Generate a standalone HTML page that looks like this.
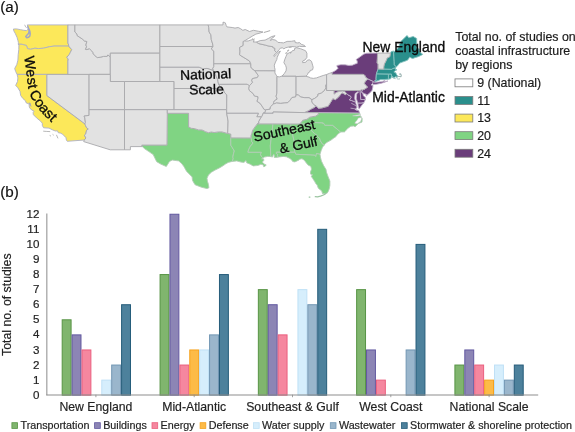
<!DOCTYPE html>
<html><head><meta charset="utf-8"><title>Figure</title>
<style>html,body{margin:0;padding:0;background:#fff}svg{display:block}text{font-family:"Liberation Sans", Arial, sans-serif;stroke:#222;stroke-width:0.18px;paint-order:stroke}.ml text{stroke:#0a0a0a;stroke-width:0.3px}</style>
</head><body>
<svg width="575" height="432" viewBox="0 0 575 432">
<rect width="575" height="432" fill="#fff"/>
<g stroke="#a8a8ac" stroke-width="0.9" stroke-linejoin="round">
<path d="M18.2,44.2 L18.4,43.3 L18.4,42.5 L17.9,40.4 L17.0,37.3 L15.4,33.7 L13.9,31.0 L13.4,29.0 L16.5,28.9 L20.7,29.7 L23.8,30.3 L26.6,30.6 L27.6,29.6 L28.4,28.0 L27.3,24.9 L67.9,24.9 L67.9,43.1 L68.7,44.9 L68.7,46.1 L54.0,46.1 L49.7,46.7 L43.4,48.2 L38.4,48.6 L34.9,48.2 L30.6,49.3 L27.4,48.6 L27.1,47.2 L26.4,45.4 L24.2,45.0 L22.1,44.3 L18.2,44.2Z" fill="#fce85a" stroke="#aeb0c4"/>
<path d="M17.1,74.4 L15.7,71.6 L14.7,68.5 L16.8,64.5 L17.9,60.2 L18.2,54.6 L18.8,49.6 L18.9,44.7 L18.2,44.2 L22.1,44.3 L24.2,45.0 L26.4,45.4 L27.1,47.2 L27.4,48.6 L30.6,49.3 L34.9,48.2 L38.4,48.6 L43.4,48.2 L49.7,46.7 L54.0,46.1 L68.7,46.1 L71.7,49.6 L70.3,52.5 L69.2,54.6 L66.7,57.4 L68.2,58.8 L67.9,61.3 L67.9,74.4 L46.9,74.4 L17.1,74.4Z" fill="#fce85a" stroke="#aeb0c4"/>
<path d="M67.3,141.3 L66.4,140.1 L66.0,137.7 L62.5,134.1 L60.4,133.1 L58.2,132.7 L57.5,130.8 L55.4,131.0 L52.6,129.9 L49.0,128.1 L43.6,127.8 L42.4,125.6 L42.3,123.2 L40.5,121.1 L36.6,117.9 L33.4,114.7 L33.1,112.6 L34.1,111.2 L32.0,110.1 L29.9,108.3 L29.2,106.2 L29.2,104.1 L26.0,102.7 L25.6,100.9 L22.8,98.4 L20.7,95.6 L20.0,91.4 L17.9,87.8 L15.7,85.4 L17.5,81.5 L17.9,77.9 L17.1,74.4 L46.9,74.4 L46.9,95.6 L84.9,123.9 L85.4,125.3 L86.6,127.8 L88.3,129.0 L86.6,130.2 L85.7,134.1 L84.4,135.2 L85.9,138.0 L84.3,140.0 L67.3,141.3Z" fill="#fce85a" stroke="#aeb0c4"/>
<path d="M167.3,113.3 L188.6,113.3 L188.6,127.0 L191.4,128.3 L194.3,128.6 L198.5,129.9 L202.1,130.0 L205.6,131.7 L208.4,132.7 L211.3,132.0 L214.1,132.5 L218.4,131.9 L221.9,131.9 L227.7,133.5 L230.8,134.1 L230.8,137.9 L230.8,145.2 L232.5,147.9 L234.3,150.9 L233.2,155.0 L232.9,157.1 L233.2,158.9 L232.2,161.4 L228.3,162.4 L225.8,163.8 L223.3,165.6 L219.8,167.7 L214.8,170.2 L211.3,172.3 L208.4,175.1 L207.0,178.3 L207.4,181.1 L208.4,184.3 L208.9,187.8 L207.0,188.6 L201.4,187.2 L195.0,184.7 L192.5,180.4 L192.1,176.9 L186.5,171.2 L184.0,166.7 L181.9,163.8 L178.7,160.9 L172.3,160.1 L169.5,161.4 L166.3,166.5 L161.0,164.2 L156.7,161.7 L155.3,158.9 L153.2,154.6 L148.9,151.6 L144.7,148.8 L142.3,146.6 L141.7,145.1 L167.0,145.1 L167.3,113.3Z" fill="#80d483" stroke="#b2ccb6"/>
<path d="M230.8,137.9 L251.2,138.0 L251.7,141.6 L253.1,143.0 L250.2,146.5 L248.5,150.0 L247.9,152.2 L261.4,152.2 L260.5,154.6 L261.9,157.1 L262.9,158.0 L261.6,158.9 L263.7,158.9 L263.7,160.6 L262.3,162.1 L264.4,164.2 L266.2,164.9 L265.1,166.3 L263.7,166.7 L263.3,164.9 L260.9,164.2 L258.7,165.2 L256.6,165.6 L253.1,165.9 L250.2,164.2 L246.7,162.8 L246.0,160.6 L243.9,162.4 L241.0,162.1 L236.8,160.9 L232.2,161.4 L233.2,158.9 L232.9,157.1 L233.2,155.0 L234.3,150.9 L232.5,147.9 L230.8,145.2 L230.8,137.9Z" fill="#80d483" stroke="#b2ccb6"/>
<path d="M257.3,123.9 L272.2,123.9 L272.9,124.6 L270.3,145.8 L270.8,156.6 L267.6,156.4 L264.4,157.1 L262.9,158.0 L261.9,157.1 L260.5,154.6 L261.4,152.2 L247.9,152.2 L248.5,150.0 L250.2,146.5 L253.1,143.0 L251.7,141.6 L251.2,138.0 L250.9,135.9 L251.7,133.8 L252.7,130.2 L255.2,126.7 L257.3,123.9Z" fill="#80d483" stroke="#b2ccb6"/>
<path d="M272.2,123.9 L290.6,124.0 L293.6,139.0 L294.9,143.0 L294.5,145.1 L294.2,148.6 L294.9,152.2 L276.5,152.2 L276.2,153.1 L277.8,154.5 L277.5,155.6 L278.1,156.2 L277.0,157.3 L274.3,157.5 L274.3,156.3 L274.1,154.6 L273.6,154.4 L272.9,155.7 L272.6,157.0 L270.8,156.6 L270.3,145.8 L272.9,124.6 L272.2,123.9Z" fill="#80d483" stroke="#b2ccb6"/>
<path d="M290.6,124.0 L299.7,124.0 L308.3,123.9 L306.6,126.0 L308.7,127.4 L310.8,129.5 L312.2,131.3 L314.7,133.8 L316.5,134.8 L317.9,137.0 L319.7,138.4 L320.4,140.8 L322.2,143.7 L324.3,144.9 L322.5,147.2 L321.1,150.7 L320.0,154.3 L316.5,153.6 L316.1,155.3 L315.8,156.6 L314.7,155.2 L295.9,154.3 L294.9,152.2 L294.2,148.6 L294.5,145.1 L294.9,143.0 L293.6,139.0 L290.6,124.0Z" fill="#80d483" stroke="#b2ccb6"/>
<path d="M294.9,152.2 L295.9,154.3 L314.7,155.2 L315.8,156.6 L316.1,155.3 L316.5,153.6 L320.0,154.3 L320.4,157.1 L321.4,161.0 L323.6,165.6 L326.0,169.5 L326.4,172.0 L328.2,176.9 L329.9,181.1 L329.9,185.4 L329.2,188.9 L328.2,191.4 L327.1,193.2 L324.3,193.5 L322.5,193.7 L321.8,191.0 L318.3,188.2 L317.2,185.0 L315.8,183.6 L314.7,181.5 L312.6,178.3 L311.2,176.2 L312.6,174.8 L310.5,174.1 L310.5,172.0 L311.5,169.1 L310.8,166.3 L308.3,165.2 L306.2,162.8 L304.4,160.3 L302.0,158.7 L299.5,159.2 L299.1,159.9 L294.9,161.9 L292.7,161.5 L292.0,160.3 L289.9,158.4 L286.4,156.8 L283.5,156.4 L279.3,156.9 L277.0,157.3 L278.1,156.2 L277.5,155.6 L277.8,154.5 L276.2,153.1 L276.5,152.2 L294.9,152.2Z" fill="#80d483" stroke="#b2ccb6"/>
<path d="M308.3,123.9 L313.3,122.5 L322.9,122.8 L322.9,123.5 L323.7,123.2 L324.8,125.2 L332.6,125.3 L340.6,132.0 L337.4,134.5 L336.0,136.6 L333.8,138.0 L331.0,140.1 L327.1,142.3 L325.7,143.3 L324.3,144.9 L322.2,143.7 L320.4,140.8 L319.7,138.4 L317.9,137.0 L316.5,134.8 L314.7,133.8 L312.2,131.3 L310.8,129.5 L308.7,127.4 L306.6,126.0 L308.3,123.9Z" fill="#80d483" stroke="#b2ccb6"/>
<path d="M359.6,112.9 L318.4,112.6 L318.3,114.3 L315.8,116.1 L311.9,116.8 L309.8,117.2 L306.9,119.3 L302.7,120.3 L301.6,121.8 L299.7,124.0 L308.3,123.9 L313.3,122.5 L322.9,122.8 L322.9,123.5 L323.7,123.2 L324.8,125.2 L332.6,125.3 L340.6,132.0 L344.5,131.9 L345.2,131.3 L347.3,128.8 L350.8,126.2 L353.7,126.0 L355.1,126.7 L358.6,123.4 L362.0,122.1 L362.2,118.6 L360.4,115.4 L359.6,112.9Z" fill="#80d483" stroke="#b2ccb6"/>
<path d="M316.3,105.9 L318.4,108.3 L321.6,108.0 L324.2,107.3 L328.2,106.2 L328.7,105.3 L330.6,102.3 L332.8,98.6 L335.3,99.7 L338.3,97.2 L342.0,92.8 L345.7,94.7 L346.5,93.3 L348.0,94.9 L350.8,96.3 L351.2,97.7 L349.4,99.8 L351.6,100.5 L354.4,101.6 L355.8,102.4 L355.9,103.4 L356.5,105.5 L357.1,107.6 L355.8,108.2 L356.9,109.4 L355.1,109.4 L356.5,110.2 L358.6,110.3 L359.6,112.9 L318.4,112.6 L304.2,112.6 L308.3,110.8 L311.2,109.0 L314.0,107.6 L316.3,105.9Z" fill="#6a3d7a" stroke="#bfb0c8"/>
<path d="M364.0,102.5 L362.5,104.4 L361.1,106.2 L359.3,108.8 L358.6,108.3 L358.1,105.5 L357.9,103.0 L361.1,103.0 L364.0,102.5Z" fill="#6a3d7a" stroke="#bfb0c8"/>
<path d="M346.5,93.3 L344.5,91.4 L342.3,91.1 L339.2,91.4 L336.7,92.3 L334.0,94.2 L334.0,90.5 L360.1,90.5 L360.8,99.5 L365.4,99.5 L364.0,102.5 L361.1,103.0 L357.9,103.0 L357.4,102.0 L356.3,98.4 L356.7,93.8 L358.6,92.1 L357.9,91.7 L355.1,93.6 L354.7,98.4 L355.7,102.0 L355.8,102.4 L354.4,101.6 L351.6,100.5 L349.4,99.8 L351.2,97.7 L350.8,96.3 L348.0,94.9 L346.5,93.3Z" fill="#6a3d7a" stroke="#bfb0c8"/>
<path d="M360.1,90.5 L360.8,99.5 L365.4,99.5 L365.2,97.0 L363.5,96.0 L362.9,93.8 L361.7,92.4 L361.8,91.2 L362.7,89.9 L361.5,89.7 L360.1,90.5Z" fill="#6a3d7a" stroke="#bfb0c8"/>
<path d="M367.9,78.9 L373.5,81.5 L372.6,83.7 L371.0,85.0 L373.0,85.3 L372.7,87.8 L372.1,90.3 L370.3,92.4 L368.2,94.2 L366.1,96.1 L366.4,94.4 L364.3,93.7 L362.2,92.4 L361.8,91.2 L362.7,89.9 L365.0,88.9 L367.5,87.1 L365.4,85.0 L364.3,83.6 L365.0,81.8 L366.4,80.0 L367.9,78.9Z" fill="#6a3d7a" stroke="#bfb0c8"/>
<path d="M332.0,72.5 L334.9,70.9 L337.0,69.4 L338.1,68.2 L337.0,66.6 L336.9,65.5 L340.9,64.7 L345.2,64.8 L348.7,65.4 L352.3,65.2 L355.1,64.0 L357.2,63.4 L357.2,61.0 L356.2,59.5 L359.3,57.4 L363.6,54.2 L366.1,53.3 L367.9,53.2 L377.5,53.1 L377.4,58.8 L377.1,63.1 L378.1,63.8 L378.1,69.1 L376.4,74.0 L376.0,79.3 L376.5,80.0 L374.7,80.8 L375.2,81.5 L374.4,82.3 L375.6,82.2 L378.5,82.0 L382.0,81.7 L384.9,80.4 L383.8,81.8 L387.9,81.0 L384.1,82.4 L380.6,83.4 L376.4,84.3 L373.2,84.4 L372.6,83.7 L373.5,81.5 L367.9,78.9 L365.4,77.2 L365.2,75.8 L363.2,74.4 L332.0,74.4 L332.0,72.5Z" fill="#6a3d7a" stroke="#bfb0c8"/>
<path d="M390.5,53.1 L391.2,51.6 L393.5,51.1 L393.9,56.7 L394.2,61.7 L394.3,64.7 L396.2,66.8 L395.3,68.2 L394.1,68.2 L392.6,68.7 L391.9,69.4 L383.7,69.2 L383.8,66.6 L384.5,63.8 L385.6,61.7 L386.6,59.5 L387.0,58.1 L389.8,56.7 L390.5,53.1Z" fill="#2a8f8c" stroke="#86c2be"/>
<path d="M393.5,51.1 L395.1,51.6 L395.5,50.4 L398.3,48.0 L399.4,46.5 L399.0,44.7 L400.8,43.1 L401.1,41.2 L406.7,35.8 L407.9,36.0 L407.9,36.9 L408.9,37.8 L413.2,36.5 L416.7,38.5 L416.7,48.2 L419.2,48.9 L419.2,51.2 L419.9,52.3 L422.4,53.9 L422.6,54.5 L420.3,55.7 L418.2,56.7 L414.6,57.8 L412.8,58.5 L411.4,58.1 L409.7,57.1 L408.6,58.8 L407.5,60.2 L404.7,61.3 L402.6,62.0 L399.7,63.1 L398.3,64.8 L396.9,66.5 L396.2,66.8 L394.3,64.7 L394.2,61.7 L393.9,56.7 L393.5,51.1Z" fill="#2a8f8c" stroke="#86c2be"/>
<path d="M395.3,68.2 L395.5,69.4 L396.9,69.8 L394.8,70.9 L393.9,72.1 L395.8,72.8 L396.5,74.6 L397.5,75.8 L398.0,76.8 L396.5,77.6 L396.2,76.4 L394.4,77.6 L393.2,77.9 L392.6,76.5 L391.7,75.9 L391.4,75.1 L391.4,74.2 L388.4,74.2 L376.4,74.0 L378.1,69.1 L383.7,69.2 L391.9,69.4 L392.6,68.7 L394.1,68.2 L395.3,68.2Z" fill="#2a8f8c" stroke="#86c2be"/>
<path d="M393.2,77.9 L392.3,76.9 L391.4,76.2 L391.1,78.1 L390.5,78.8 L388.0,79.2 L388.4,78.6 L388.4,74.2 L391.4,74.2 L391.4,75.1 L391.7,75.9 L392.6,76.5 L393.2,77.9Z" fill="#2a8f8c" stroke="#86c2be"/>
<path d="M388.0,79.2 L383.4,79.6 L380.6,79.6 L378.5,80.4 L375.2,81.5 L374.7,80.8 L376.5,80.0 L376.0,79.3 L376.4,74.0 L388.4,74.2 L388.4,78.6 L388.0,79.2Z" fill="#2a8f8c" stroke="#86c2be"/>
<path d="M46.9,74.4 L67.9,74.4 L89.1,74.4 L89.1,109.7 L89.1,115.4 L84.1,116.1 L84.8,117.9 L85.4,122.5 L84.9,123.9 L46.9,95.6 L46.9,74.4Z" fill="#e2e2e2"/>
<path d="M67.9,24.9 L74.9,24.9 L74.9,32.0 L77.0,34.1 L77.4,35.9 L79.8,37.3 L82.3,39.0 L84.4,40.9 L86.9,41.5 L85.9,45.0 L86.6,46.8 L85.5,49.3 L86.9,49.6 L89.4,48.6 L91.2,50.4 L93.0,52.5 L93.3,53.9 L96.5,57.1 L97.6,57.6 L100.7,57.1 L103.6,56.4 L107.1,56.4 L107.8,54.9 L110.3,56.9 L110.3,74.4 L89.1,74.4 L67.9,74.4 L67.9,61.3 L68.2,58.8 L66.7,57.4 L69.2,54.6 L70.3,52.5 L71.7,49.6 L68.7,46.1 L68.7,44.9 L67.9,43.1 L67.9,24.9Z" fill="#e2e2e2"/>
<path d="M74.9,24.9 L159.9,24.9 L159.9,46.5 L159.9,53.2 L110.3,53.2 L110.3,56.9 L107.8,54.9 L107.1,56.4 L103.6,56.4 L100.7,57.1 L97.6,57.6 L96.5,57.1 L93.3,53.9 L93.0,52.5 L91.2,50.4 L89.4,48.6 L86.9,49.6 L85.5,49.3 L86.6,46.8 L85.9,45.0 L86.9,41.5 L84.4,40.9 L82.3,39.0 L79.8,37.3 L77.4,35.9 L77.0,34.1 L74.9,32.0 L74.9,24.9Z" fill="#e2e2e2"/>
<path d="M110.3,56.9 L110.3,53.2 L159.9,53.2 L159.9,67.3 L159.9,81.5 L124.5,81.5 L110.3,81.5 L110.3,74.4 L110.3,56.9Z" fill="#e2e2e2"/>
<path d="M89.1,74.4 L110.3,74.4 L110.3,81.5 L124.5,81.5 L124.5,109.7 L89.1,109.7 L89.1,74.4Z" fill="#e2e2e2"/>
<path d="M89.1,109.7 L124.5,109.7 L124.5,149.8 L110.2,149.8 L83.7,141.6 L84.3,140.0 L85.9,138.0 L84.4,135.2 L85.7,134.1 L86.6,130.2 L88.3,129.0 L86.6,127.8 L85.4,125.3 L84.9,123.9 L85.4,122.5 L84.8,117.9 L84.1,116.1 L89.1,115.4 L89.1,109.7Z" fill="#e2e2e2"/>
<path d="M124.5,81.5 L159.9,81.5 L174.1,81.5 L174.1,88.5 L174.1,109.7 L167.3,109.7 L124.5,109.7 L124.5,81.5Z" fill="#e2e2e2"/>
<path d="M124.5,109.7 L167.3,109.7 L167.3,113.3 L167.0,145.1 L141.7,145.1 L142.3,146.6 L130.4,146.6 L130.4,149.8 L124.5,149.8 L124.5,109.7Z" fill="#e2e2e2"/>
<path d="M159.9,24.9 L208.2,24.9 L208.8,27.7 L209.1,32.0 L210.9,34.8 L211.3,39.7 L212.7,44.0 L213.0,46.5 L159.9,46.5 L159.9,24.9Z" fill="#e2e2e2"/>
<path d="M159.9,46.5 L213.0,46.5 L211.3,48.9 L213.8,51.1 L213.8,63.8 L213.8,66.6 L212.7,68.7 L213.8,70.9 L212.0,70.1 L207.0,68.4 L202.8,68.9 L199.2,67.3 L159.9,67.3 L159.9,53.2 L159.9,46.5Z" fill="#e2e2e2"/>
<path d="M159.9,67.3 L199.2,67.3 L202.8,68.9 L207.0,68.4 L212.0,70.1 L213.8,70.9 L214.8,73.0 L216.2,76.5 L217.6,79.3 L218.0,81.5 L218.6,84.4 L221.8,88.5 L174.1,88.5 L174.1,81.5 L159.9,81.5 L159.9,67.3Z" fill="#e2e2e2"/>
<path d="M174.1,88.5 L221.8,88.5 L223.3,89.6 L224.7,92.8 L226.8,94.9 L226.7,109.7 L174.1,109.7 L174.1,88.5Z" fill="#e2e2e2"/>
<path d="M174.1,109.7 L226.7,109.7 L226.7,113.3 L228.1,121.1 L227.7,133.5 L221.9,131.9 L218.4,131.9 L214.1,132.5 L211.3,132.0 L208.4,132.7 L205.6,131.7 L202.1,130.0 L198.5,129.9 L194.3,128.6 L191.4,128.3 L188.6,127.0 L188.6,113.3 L167.3,113.3 L167.3,109.7 L174.1,109.7Z" fill="#e2e2e2"/>
<path d="M208.2,24.9 L223.0,24.9 L223.0,22.2 L224.4,22.4 L225.3,22.8 L226.3,25.7 L226.9,26.9 L232.2,27.5 L235.0,28.1 L238.2,27.5 L240.7,28.8 L242.8,30.3 L245.3,29.5 L249.5,31.5 L253.4,30.3 L258.7,31.3 L263.0,32.0 L260.2,33.0 L255.9,34.1 L252.4,36.1 L248.8,38.3 L245.3,40.3 L244.6,41.0 L243.2,41.5 L243.2,45.5 L239.6,47.5 L240.0,51.1 L239.6,54.9 L243.2,57.1 L246.0,58.8 L249.5,61.0 L250.8,63.8 L213.8,63.8 L213.8,51.1 L211.3,48.9 L213.0,46.5 L212.7,44.0 L211.3,39.7 L210.9,34.8 L209.1,32.0 L208.8,27.7 L208.2,24.9Z" fill="#e2e2e2"/>
<path d="M213.8,63.8 L250.8,63.8 L250.9,66.6 L251.3,68.0 L254.9,70.8 L256.6,73.0 L258.4,75.8 L257.3,77.6 L252.4,78.6 L251.7,80.8 L252.7,82.2 L249.4,85.8 L247.2,84.3 L218.6,84.4 L218.0,81.5 L217.6,79.3 L216.2,76.5 L214.8,73.0 L213.8,70.9 L212.7,68.7 L213.8,66.6 L213.8,63.8Z" fill="#e2e2e2"/>
<path d="M218.6,84.4 L247.2,84.3 L249.4,85.8 L248.8,88.5 L249.5,90.7 L253.1,93.5 L254.5,96.0 L258.0,96.7 L258.0,98.4 L257.0,101.3 L260.2,103.4 L263.0,107.6 L263.7,109.0 L265.5,109.9 L265.1,112.6 L263.0,113.3 L262.6,115.0 L261.6,116.8 L256.8,116.8 L258.4,113.3 L226.7,113.3 L226.7,109.7 L226.8,94.9 L224.7,92.8 L223.3,89.6 L221.8,88.5 L218.6,84.4Z" fill="#e2e2e2"/>
<path d="M226.7,113.3 L258.4,113.3 L256.8,116.8 L261.6,116.8 L260.2,118.9 L258.7,121.8 L259.0,123.0 L257.3,123.9 L255.2,126.7 L252.7,130.2 L251.7,133.8 L250.9,135.9 L251.2,138.0 L230.8,137.9 L230.8,134.1 L227.7,133.5 L228.1,121.1 L226.7,113.3Z" fill="#e2e2e2"/>
<path d="M244.6,41.0 L248.1,41.0 L250.9,40.0 L253.4,39.4 L254.1,41.2 L253.1,41.9 L256.5,42.1 L258.7,43.6 L265.8,45.2 L268.0,45.9 L272.9,46.7 L272.9,47.5 L275.0,48.4 L274.7,50.7 L276.5,52.5 L275.4,53.5 L273.6,55.9 L274.0,56.5 L276.5,54.2 L278.6,51.8 L280.4,51.2 L278.6,54.2 L277.2,57.4 L276.8,59.5 L275.5,62.0 L274.3,65.2 L274.5,67.3 L275.0,69.1 L275.0,70.9 L254.9,70.8 L251.3,68.0 L250.9,66.6 L250.8,63.8 L249.5,61.0 L246.0,58.8 L243.2,57.1 L239.6,54.9 L240.0,51.1 L239.6,47.5 L243.2,45.5 L243.2,41.5 L244.6,41.0Z" fill="#e2e2e2"/>
<path d="M254.9,70.8 L275.0,70.9 L274.9,73.0 L276.3,75.2 L277.0,76.5 L276.9,93.1 L276.1,96.3 L277.2,99.1 L274.3,100.9 L273.6,102.7 L273.3,104.1 L270.4,106.9 L270.1,109.2 L265.5,109.9 L263.7,109.0 L263.0,107.6 L260.2,103.4 L257.0,101.3 L258.0,98.4 L258.0,96.7 L254.5,96.0 L253.1,93.5 L249.5,90.7 L248.8,88.5 L249.4,85.8 L252.7,82.2 L251.7,80.8 L252.4,78.6 L257.3,77.6 L258.4,75.8 L256.6,73.0 L254.9,70.8Z" fill="#e2e2e2"/>
<path d="M277.0,76.5 L279.3,76.9 L282.0,76.1 L296.1,76.1 L296.1,76.5 L296.1,94.9 L295.6,97.0 L292.0,97.5 L289.9,100.5 L287.8,102.7 L284.2,103.0 L280.7,103.4 L276.5,103.0 L273.3,104.1 L273.6,102.7 L274.3,100.9 L277.2,99.1 L276.1,96.3 L276.9,93.1 L277.0,76.5Z" fill="#e2e2e2"/>
<path d="M256.5,42.1 L260.2,40.6 L265.1,40.1 L268.7,38.3 L271.5,36.6 L275.0,35.7 L274.0,36.9 L271.8,38.3 L270.4,40.5 L272.2,39.5 L275.7,40.1 L277.9,42.4 L280.7,42.6 L283.5,42.9 L287.1,41.4 L291.3,41.3 L294.9,40.7 L295.2,42.6 L297.7,42.9 L299.5,42.6 L301.3,44.3 L304.4,45.4 L305.5,46.5 L302.0,46.6 L299.5,46.3 L296.6,47.2 L294.9,46.8 L291.3,46.5 L287.8,47.2 L285.3,47.9 L283.9,48.9 L282.5,47.9 L280.4,48.1 L279.3,49.6 L276.5,52.5 L274.7,50.7 L275.0,48.4 L272.9,47.5 L272.9,46.7 L268.0,45.9 L265.8,45.2 L258.7,43.6 L256.5,42.1Z" fill="#e2e2e2"/>
<path d="M282.0,76.1 L284.2,73.7 L286.0,70.9 L286.4,68.0 L285.7,65.6 L283.9,62.7 L284.6,59.9 L286.0,56.4 L287.1,53.9 L289.2,52.8 L290.5,52.0 L290.6,53.3 L291.3,52.1 L292.4,50.7 L294.5,50.2 L294.5,48.6 L296.6,47.7 L300.5,48.7 L305.5,50.7 L306.9,53.2 L306.9,57.4 L305.1,59.9 L302.7,61.0 L302.7,62.7 L305.9,62.2 L307.3,60.2 L309.4,59.8 L311.5,61.3 L312.6,65.2 L313.2,67.3 L312.6,69.8 L310.1,70.5 L309.8,71.9 L308.3,72.6 L307.6,74.4 L305.9,76.3 L296.1,76.5 L296.1,76.1 L282.0,76.1Z" fill="#e2e2e2"/>
<path d="M305.9,76.3 L309.0,77.1 L310.5,77.9 L313.3,78.4 L316.5,77.9 L319.7,76.7 L323.2,75.5 L326.6,74.5 L326.6,84.0 L325.7,85.7 L326.0,87.8 L324.3,90.7 L321.4,93.1 L317.9,94.2 L317.9,96.0 L314.7,98.4 L311.9,99.7 L309.0,97.7 L304.8,97.7 L300.5,97.0 L298.4,94.9 L296.1,94.9 L296.1,76.5 L305.9,76.3Z" fill="#e2e2e2"/>
<path d="M296.1,94.9 L295.6,97.0 L292.0,97.5 L289.9,100.5 L287.8,102.7 L284.2,103.0 L280.7,103.4 L276.5,103.0 L273.3,104.1 L270.4,106.9 L270.1,109.2 L265.5,109.9 L265.1,112.6 L263.0,113.3 L273.1,113.3 L273.1,112.0 L304.2,112.6 L308.3,110.8 L311.2,109.0 L314.0,107.6 L316.3,105.9 L314.0,104.8 L311.9,102.0 L311.9,99.7 L309.0,97.7 L304.8,97.7 L300.5,97.0 L298.4,94.9 L296.1,94.9Z" fill="#e2e2e2"/>
<path d="M263.0,113.3 L273.1,113.3 L273.1,112.0 L304.2,112.6 L318.4,112.6 L318.3,114.3 L315.8,116.1 L311.9,116.8 L309.8,117.2 L306.9,119.3 L302.7,120.3 L301.6,121.8 L299.7,124.0 L290.6,124.0 L272.2,123.9 L257.3,123.9 L259.0,123.0 L258.7,121.8 L260.2,118.9 L261.6,116.8 L262.6,115.0 L263.0,113.3Z" fill="#e2e2e2"/>
<path d="M326.6,84.0 L325.7,85.7 L326.0,87.8 L324.3,90.7 L321.4,93.1 L317.9,94.2 L317.9,96.0 L314.7,98.4 L311.9,99.7 L311.9,102.0 L314.0,104.8 L316.3,105.9 L318.4,108.3 L321.6,108.0 L324.2,107.3 L328.2,106.2 L328.7,105.3 L330.6,102.3 L332.8,98.6 L335.3,99.7 L338.3,97.2 L342.0,92.8 L345.7,94.7 L346.5,93.3 L344.5,91.4 L342.3,91.1 L339.2,91.4 L336.7,92.3 L334.0,94.2 L334.0,90.5 L326.6,90.5 L326.6,84.0Z" fill="#e2e2e2"/>
<path d="M326.6,74.5 L329.6,73.3 L332.0,72.5 L332.0,74.4 L363.2,74.4 L365.2,75.8 L365.4,77.2 L367.9,78.9 L366.4,80.0 L365.0,81.8 L364.3,83.6 L365.4,85.0 L367.5,87.1 L365.0,88.9 L362.7,89.9 L361.5,89.7 L360.1,90.5 L334.0,90.5 L326.6,90.5 L326.6,84.0 L326.6,74.5Z" fill="#e2e2e2"/>
<path d="M377.5,53.1 L390.5,53.1 L389.8,56.7 L387.0,58.1 L386.6,59.5 L385.6,61.7 L384.5,63.8 L383.8,66.6 L383.7,69.2 L378.1,69.1 L378.1,63.8 L377.1,63.1 L377.4,58.8 L377.5,53.1Z" fill="#e2e2e2"/>
</g>
<g fill="none" stroke-linejoin="round" stroke-linecap="round">
<path d="M27.8,26.6 L28.6,28.6 L29.1,31 L28.6,33.4 L26.8,35.2 L25.7,36.6 L26.8,37.8 L28.4,37.3 L29.8,36.2 L30.2,33.8 L29.8,31.2 L29,29" stroke="#a0a6c8" stroke-width="1.5"/>
<path d="M25.2,26.2 L26.4,27.6 M24.6,25.2 L25.3,25.6" stroke="#b4b4b4" stroke-width="0.8"/>
<path d="M29.4,103 L30.3,104.6 L30.9,106.2 M30.2,104.4 L30.0,103.2" stroke="#a3a8c6" stroke-width="1"/>
<path d="M43.6,131.2 L46.2,131.4 L49.8,131.6 M50,135.6 L50.6,135.9 M52.9,134.6 L53.4,135 M56.6,135.2 L57.8,138" stroke="#b0b0b0" stroke-width="0.9"/>
<path d="M315.3,196.7 L317.5,196.9 L320.5,196.2 L323.5,195 L325.6,193.6 M309.2,197.1 L309.9,197.1" stroke="#9cc5a2" stroke-width="1.3"/>
<path d="M289.6,47.4 L291.4,46.9 M287.6,51.0 L288.6,50.2 M285.9,53.3 L286.7,52.7" stroke="#b4b4b4" stroke-width="1.3"/>
<path d="M264.2,32.4 L266.9,31.6 L269.8,30.7" stroke="#ababab" stroke-width="1"/>
<path d="M252.6,38.6 L253.6,39.4 L254.6,39.0" stroke="#ababab" stroke-width="0.8"/>
<path d="M351.6,103.4 L354,104.6 L356.2,106.1 M350.9,108.2 L353.8,108.6 L356.8,109.6" stroke="#cfc4d4" stroke-width="0.7"/>
<path d="M397.2,78.8 L398.4,79.1 L399.6,78.9 M393.8,78.3 L395.3,78.6" stroke="#9fbfbd" stroke-width="0.9"/>
<path d="M397.3,76.3 L399.2,76.5 L401.0,76.6 L401.3,75.2 L400.5,73.9 L399.6,74.1" stroke="#9db5b4" stroke-width="1.1"/>
</g>
<g stroke="#c9c4cc" stroke-width="0.5" fill="#ffffff" stroke-linejoin="round">
<path d="M358.3,118.0 L361.6,117.4 L361.3,119.6 L360.6,121.4 L357.2,123.8 L354.8,123.3 L355.6,121.8 L356.9,120.6 Z"/>
<path d="M352.6,115.8 L356.5,115.2 L360.2,114.4 L360.6,116.2 L359.6,115.6 L356.5,116.1 Z"/>
</g>
<defs><path id="wcp" d="M24.2,56.9 C24.6,59.3 25.5,65.9 26.2,71.4 C27.0,76.9 27.3,84.8 28.5,89.8 C29.7,94.9 31.3,97.9 33.6,101.8 C35.8,105.6 38.8,109.1 42.2,113.0 C45.5,116.8 50.5,121.3 53.8,124.6 C57.2,128.0 60.9,131.8 62.3,133.2"/></defs>
<g class="ml" font-size="13.9" fill="#0a0a0a">
<text font-size="14.3"><textPath href="#wcp">West Coast</textPath></text>
<text transform="translate(205.8,79) rotate(-2)" text-anchor="middle">National</text>
<text transform="translate(206.5,94.2) rotate(-1)" text-anchor="middle">Scale</text>
<text transform="translate(285.2,135.2) rotate(-12)" text-anchor="middle">Southeast</text>
<text transform="translate(299.5,149.5) rotate(-12)" text-anchor="middle">&amp; Gulf</text>
<text x="362.5" y="51.8">New England</text>
<text x="372.3" y="101.7">Mid-Atlantic</text>
</g>

<text x="0.3" y="11.6" font-size="15.2" fill="#111">(a)</text>
<text x="0.3" y="196.6" font-size="15.2" fill="#111">(b)</text>
<text x="455.2" y="40.50" font-size="12.4" fill="#1a1a1a">Total no. of studies on</text>
<text x="455.2" y="54.55" font-size="12.4" fill="#1a1a1a">coastal infrastructure</text>
<text x="455.2" y="68.60" font-size="12.4" fill="#1a1a1a">by regions</text>
<rect x="455" y="78.9" width="17.8" height="7.9" fill="#ffffff" stroke="#7a7a7a" stroke-width="0.8"/>
<text x="477.2" y="87.1" font-size="12.4" fill="#1a1a1a">9 (National)</text>
<rect x="455" y="96.5" width="17.8" height="7.9" fill="#2a8f8c" stroke="#7a7a7a" stroke-width="0.8"/>
<text x="477.2" y="104.7" font-size="12.4" fill="#1a1a1a">11</text>
<rect x="455" y="114.1" width="17.8" height="7.9" fill="#fce85a" stroke="#7a7a7a" stroke-width="0.8"/>
<text x="477.2" y="122.3" font-size="12.4" fill="#1a1a1a">13</text>
<rect x="455" y="131.7" width="17.8" height="7.9" fill="#80d483" stroke="#7a7a7a" stroke-width="0.8"/>
<text x="477.2" y="139.9" font-size="12.4" fill="#1a1a1a">20</text>
<rect x="455" y="149.3" width="17.8" height="7.9" fill="#6a3d7a" stroke="#7a7a7a" stroke-width="0.8"/>
<text x="477.2" y="157.5" font-size="12.4" fill="#1a1a1a">24</text>
<line x1="46.8" y1="213.5" x2="46.8" y2="395.2" stroke="#a6a6a6" stroke-width="1.3"/>
<rect x="62.19" y="319.80" width="8.90" height="75.40" fill="#80b56e" stroke="#579445" stroke-width="1"/>
<rect x="72.09" y="334.88" width="8.90" height="60.32" fill="#8c85b5" stroke="#6258a0" stroke-width="1"/>
<rect x="81.99" y="349.96" width="8.90" height="45.24" fill="#f5879f" stroke="#ea5f7e" stroke-width="1"/>
<rect x="101.79" y="380.12" width="8.90" height="15.08" fill="#d6eefc" stroke="#bfe0f6" stroke-width="1"/>
<rect x="111.69" y="365.04" width="8.90" height="30.16" fill="#9ab6cc" stroke="#7297b4" stroke-width="1"/>
<rect x="121.59" y="304.72" width="8.90" height="90.48" fill="#4d819c" stroke="#255c7a" stroke-width="1"/>
<line x1="95.9" y1="394.7" x2="95.9" y2="397.2" stroke="#8a8a8a" stroke-width="0.8"/>
<text x="95.9" y="411" font-size="12.25" text-anchor="middle" fill="#222">New England</text>
<rect x="160.07" y="274.56" width="8.90" height="120.64" fill="#80b56e" stroke="#579445" stroke-width="1"/>
<rect x="169.97" y="214.24" width="8.90" height="180.96" fill="#8c85b5" stroke="#6258a0" stroke-width="1"/>
<rect x="179.87" y="365.04" width="8.90" height="30.16" fill="#f5879f" stroke="#ea5f7e" stroke-width="1"/>
<rect x="189.77" y="349.96" width="8.90" height="45.24" fill="#fdbb47" stroke="#f6a11c" stroke-width="1"/>
<rect x="199.67" y="349.96" width="8.90" height="45.24" fill="#d6eefc" stroke="#bfe0f6" stroke-width="1"/>
<rect x="209.57" y="334.88" width="8.90" height="60.32" fill="#9ab6cc" stroke="#7297b4" stroke-width="1"/>
<rect x="219.47" y="274.56" width="8.90" height="120.64" fill="#4d819c" stroke="#255c7a" stroke-width="1"/>
<line x1="194.2" y1="394.7" x2="194.2" y2="397.2" stroke="#8a8a8a" stroke-width="0.8"/>
<text x="194.2" y="411" font-size="12.25" text-anchor="middle" fill="#222">Mid-Atlantic</text>
<rect x="258.35" y="289.64" width="8.90" height="105.56" fill="#80b56e" stroke="#579445" stroke-width="1"/>
<rect x="268.25" y="304.72" width="8.90" height="90.48" fill="#8c85b5" stroke="#6258a0" stroke-width="1"/>
<rect x="278.15" y="334.88" width="8.90" height="60.32" fill="#f5879f" stroke="#ea5f7e" stroke-width="1"/>
<rect x="297.95" y="289.64" width="8.90" height="105.56" fill="#d6eefc" stroke="#bfe0f6" stroke-width="1"/>
<rect x="307.85" y="304.72" width="8.90" height="90.48" fill="#9ab6cc" stroke="#7297b4" stroke-width="1"/>
<rect x="317.75" y="229.32" width="8.90" height="165.88" fill="#4d819c" stroke="#255c7a" stroke-width="1"/>
<line x1="292.5" y1="394.7" x2="292.5" y2="397.2" stroke="#8a8a8a" stroke-width="0.8"/>
<text x="292.5" y="411" font-size="12.25" text-anchor="middle" fill="#222">Southeast &amp; Gulf</text>
<rect x="356.63" y="289.64" width="8.90" height="105.56" fill="#80b56e" stroke="#579445" stroke-width="1"/>
<rect x="366.53" y="349.96" width="8.90" height="45.24" fill="#8c85b5" stroke="#6258a0" stroke-width="1"/>
<rect x="376.43" y="380.12" width="8.90" height="15.08" fill="#f5879f" stroke="#ea5f7e" stroke-width="1"/>
<rect x="406.13" y="349.96" width="8.90" height="45.24" fill="#9ab6cc" stroke="#7297b4" stroke-width="1"/>
<rect x="416.03" y="244.40" width="8.90" height="150.80" fill="#4d819c" stroke="#255c7a" stroke-width="1"/>
<line x1="390.8" y1="394.7" x2="390.8" y2="397.2" stroke="#8a8a8a" stroke-width="0.8"/>
<text x="390.8" y="411" font-size="12.25" text-anchor="middle" fill="#222">West Coast</text>
<rect x="454.91" y="365.04" width="8.90" height="30.16" fill="#80b56e" stroke="#579445" stroke-width="1"/>
<rect x="464.81" y="349.96" width="8.90" height="45.24" fill="#8c85b5" stroke="#6258a0" stroke-width="1"/>
<rect x="474.71" y="365.04" width="8.90" height="30.16" fill="#f5879f" stroke="#ea5f7e" stroke-width="1"/>
<rect x="484.61" y="380.12" width="8.90" height="15.08" fill="#fdbb47" stroke="#f6a11c" stroke-width="1"/>
<rect x="494.51" y="365.04" width="8.90" height="30.16" fill="#d6eefc" stroke="#bfe0f6" stroke-width="1"/>
<rect x="504.41" y="380.12" width="8.90" height="15.08" fill="#9ab6cc" stroke="#7297b4" stroke-width="1"/>
<rect x="514.31" y="365.04" width="8.90" height="30.16" fill="#4d819c" stroke="#255c7a" stroke-width="1"/>
<line x1="489.1" y1="394.7" x2="489.1" y2="397.2" stroke="#8a8a8a" stroke-width="0.8"/>
<text x="489.1" y="411" font-size="12.25" text-anchor="middle" fill="#222">National Scale</text>
<line x1="46.3" y1="395.0" x2="538.2" y2="395.0" stroke="#8e8e8e" stroke-width="1.2"/>
<text x="39.4" y="398.7" font-size="11.6" text-anchor="end" fill="#222">0</text>
<text x="39.4" y="383.6" font-size="11.6" text-anchor="end" fill="#222">1</text>
<text x="39.4" y="368.5" font-size="11.6" text-anchor="end" fill="#222">2</text>
<text x="39.4" y="353.5" font-size="11.6" text-anchor="end" fill="#222">3</text>
<text x="39.4" y="338.4" font-size="11.6" text-anchor="end" fill="#222">4</text>
<text x="39.4" y="323.3" font-size="11.6" text-anchor="end" fill="#222">5</text>
<text x="39.4" y="308.2" font-size="11.6" text-anchor="end" fill="#222">6</text>
<text x="39.4" y="293.1" font-size="11.6" text-anchor="end" fill="#222">7</text>
<text x="39.4" y="278.1" font-size="11.6" text-anchor="end" fill="#222">8</text>
<text x="39.4" y="263.0" font-size="11.6" text-anchor="end" fill="#222">9</text>
<text x="39.4" y="247.9" font-size="11.6" text-anchor="end" fill="#222">10</text>
<text x="39.4" y="232.8" font-size="11.6" text-anchor="end" fill="#222">11</text>
<text x="39.4" y="217.7" font-size="11.6" text-anchor="end" fill="#222">12</text>
<text transform="translate(11.3,304.7) rotate(-90)" font-size="12.3" text-anchor="middle" fill="#222">Total no. of studies</text>
<rect x="11.9" y="422.7" width="5.7" height="5.7" fill="#80b56e" stroke="#579445" stroke-width="0.8"/>
<text x="20.5" y="429.3" font-size="10.75" fill="#222">Transportation</text>
<rect x="94.6" y="422.7" width="5.7" height="5.7" fill="#8c85b5" stroke="#6258a0" stroke-width="0.8"/>
<text x="103.2" y="429.3" font-size="10.75" fill="#222">Buildings</text>
<rect x="152.0" y="422.7" width="5.7" height="5.7" fill="#f5879f" stroke="#ea5f7e" stroke-width="0.8"/>
<text x="160.6" y="429.3" font-size="10.75" fill="#222">Energy</text>
<rect x="200.1" y="422.7" width="5.7" height="5.7" fill="#fdbb47" stroke="#f6a11c" stroke-width="0.8"/>
<text x="208.7" y="429.3" font-size="10.75" fill="#222">Defense</text>
<rect x="253.5" y="422.7" width="5.7" height="5.7" fill="#d6eefc" stroke="#bfe0f6" stroke-width="0.8"/>
<text x="262.1" y="429.3" font-size="10.75" fill="#222">Water supply</text>
<rect x="330.3" y="422.7" width="5.7" height="5.7" fill="#9ab6cc" stroke="#7297b4" stroke-width="0.8"/>
<text x="338.9" y="429.3" font-size="10.75" fill="#222">Wastewater</text>
<rect x="401.5" y="422.7" width="5.7" height="5.7" fill="#4d819c" stroke="#255c7a" stroke-width="0.8"/>
<text x="410.1" y="429.3" font-size="10.75" fill="#222">Stormwater &amp; shoreline protection</text>
</svg>
</body></html>
